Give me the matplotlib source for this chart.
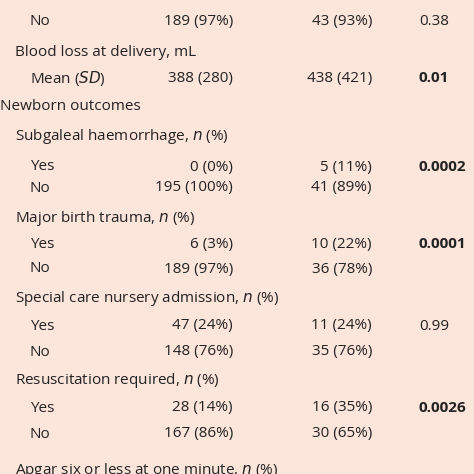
import matplotlib.pyplot as plt

plt.rcParams['font.family'] = ['Open Sans', 'DejaVu Sans']

# table rows: (label, indent level, col A, col B, p value, bold p)
labels = ["No", "Blood loss at delivery, mL", "Mean ($\\mathit{SD}$)", "Newborn outcomes",
          "Subgaleal haemorrhage, $\\mathit{n}$ (%)", "Yes", "No",
          "Major birth trauma, $\\mathit{n}$ (%)", "Yes", "No",
          "Special care nursery admission, $\\mathit{n}$ (%)", "Yes", "No",
          "Resuscitation required, $\\mathit{n}$ (%)", "Yes", "No",
          "Apgar six or less at one minute, $\\mathit{n}$ (%)"]
levels = [2, 1, 2, 0, 1, 2, 2, 1, 2, 2, 1, 2, 2, 1, 2, 2, 1]
col_a = ["189 (97%)", "", "388 (280)", "", "", "0 (0%)", "195 (100%)", "", "6 (3%)", "189 (97%)",
         "", "47 (24%)", "148 (76%)", "", "28 (14%)", "167 (86%)", ""]
col_b = ["43 (93%)", "", "438 (421)", "", "", "5 (11%)", "41 (89%)", "", "10 (22%)", "36 (78%)",
         "", "11 (24%)", "35 (76%)", "", "16 (35%)", "30 (65%)", ""]
p_vals = ["0.38", "", "0.01", "", "", "0.0002", "", "", "0.0001", "", "", "0.99", "", "", "0.0026", "", ""]
p_bold = [False, False, True, False, False, True, False, False, True, False, False, False, False, False, True, False, False]
row_y = [21, 52, 78, 106, 137, 167, 188, 218, 244, 269, 298, 326, 352, 380, 408, 434, 470]

fig = plt.figure(figsize=(4.74, 4.74), dpi=100)
fig.patch.set_facecolor('#fce6dc')
ax = fig.add_axes([0, 0, 1, 1])
ax.set_xlim(0, 474)
ax.set_ylim(474, 0)
ax.axis('off')

txt = dict(fontsize=11, color='#222222', va='center')
indent = {0: 0, 1: 15, 2: 30}
for i, lab in enumerate(labels):
    y = row_y[i]
    ax.text(indent[levels[i]], y, lab, ha='left', **txt)
    ax.text(233, y, col_a[i], ha='right', **txt)
    ax.text(372, y, col_b[i], ha='right', **txt)
    ax.text(419, y, p_vals[i], ha='left', fontweight='bold' if p_bold[i] else 'normal', **txt)

fig.savefig('out.png', dpi=100, facecolor=fig.get_facecolor())
